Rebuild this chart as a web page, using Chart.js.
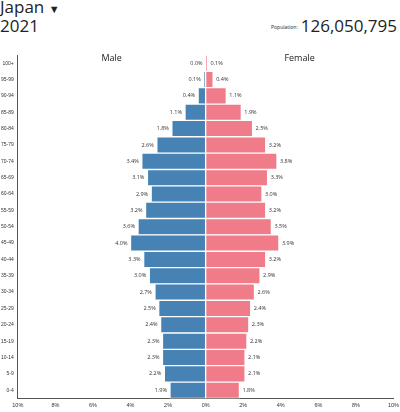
<!DOCTYPE html>
<html><head><meta charset="utf-8">
<script src="https://cdn.jsdelivr.net/npm/chart.js@4/dist/chart.umd.min.js"></script>
<style>
body{margin:0;width:400px;height:412px;position:relative;font-family:"Open Sans",sans-serif;background:#fff;overflow:hidden}
#t1{position:absolute;left:0;top:-5px;font-size:17px;color:#222}
#t2{position:absolute;left:0;top:14px;font-size:17px;color:#222}
#pop{position:absolute;right:3px;top:14px;font-size:17px;color:#222}
#pop small{font-size:5px;vertical-align:middle;margin-right:3px}
#wrap{position:absolute;left:0;top:51px;width:400px;height:361px}
</style></head><body>
<div id="t1">Japan <span style="font-size:11px">&#9660;</span></div>
<div id="t2">2021</div>
<div id="pop"><small>Population:</small>126,050,795</div>
<div id="wrap"><canvas id="c"></canvas></div>
<script>
const ages=["100+","95-99","90-94","85-89","80-84","75-79","70-74","65-69","60-64","55-59","50-54","45-49","40-44","35-39","30-34","25-29","20-24","15-19","10-14","5-9","0-4"];
const male=[0.0,0.1,0.4,1.1,1.8,2.6,3.4,3.1,2.9,3.2,3.6,4.0,3.3,3.0,2.7,2.5,2.4,2.3,2.3,2.2,1.9];
const female=[0.1,0.4,1.1,1.9,2.5,3.2,3.8,3.3,3.0,3.2,3.5,3.9,3.2,2.9,2.6,2.4,2.3,2.2,2.1,2.1,1.8];
const xTicks=[-10,-8,-6,-4,-2,0,2,4,6,8,10];
const labelPlugin={id:'lbl',afterDatasetsDraw(ch){
 const ctx=ch.ctx;ctx.save();ctx.font='5.5px "Open Sans",sans-serif';ctx.fillStyle='#333';ctx.textBaseline='middle';
 ch.data.datasets.forEach((ds,di)=>{ch.getDatasetMeta(di).data.forEach((b,i)=>{
  const v=di===0?male[i]:female[i];const t=v.toFixed(1)+'%';
  if(di===0){ctx.textAlign='right';ctx.fillText(t,b.x-3,b.y);}else{ctx.textAlign='left';ctx.fillText(t,b.x+3,b.y);}
 });});
 const x=ch.scales.x;ctx.font='9px "Open Sans",sans-serif';ctx.fillStyle='#222';ctx.textAlign='center';
 ctx.fillText('Male',x.getPixelForValue(-5),ch.chartArea.top+3);
 ctx.fillText('Female',x.getPixelForValue(5),ch.chartArea.top+3);
 ctx.restore();}};
new Chart(document.getElementById('c'),{type:'bar',
 data:{labels:ages,datasets:[
  {label:'Male',data:male.map(v=>-v),backgroundColor:'#4682b4',borderColor:'#fff',borderWidth:1,borderSkipped:false},
  {label:'Female',data:female,backgroundColor:'#f07b89',borderColor:'#fff',borderWidth:1,borderSkipped:false}]},
 plugins:[labelPlugin],
 options:{indexAxis:'y',animation:false,responsive:true,maintainAspectRatio:false,
  layout:{padding:{left:0,right:0,top:0,bottom:2}},
  categoryPercentage:1,barPercentage:1,
  plugins:{legend:{display:false},tooltip:{enabled:false}},
  scales:{
   x:{stacked:true,min:-10,max:10,afterBuildTicks(a){a.ticks=xTicks.map(v=>({value:v}));},
    grid:{display:false,drawTicks:true,tickLength:3},border:{color:'#555'},
    ticks:{font:{size:5.5},color:'#333',padding:1,maxRotation:0,callback:v=>Math.abs(v)+'%'}},
   y:{stacked:true,grid:{display:false,tickLength:3},border:{color:'#555'},
    ticks:{font:{size:5},color:'#333',padding:1,autoSkip:false}}}}});
</script></body></html>
